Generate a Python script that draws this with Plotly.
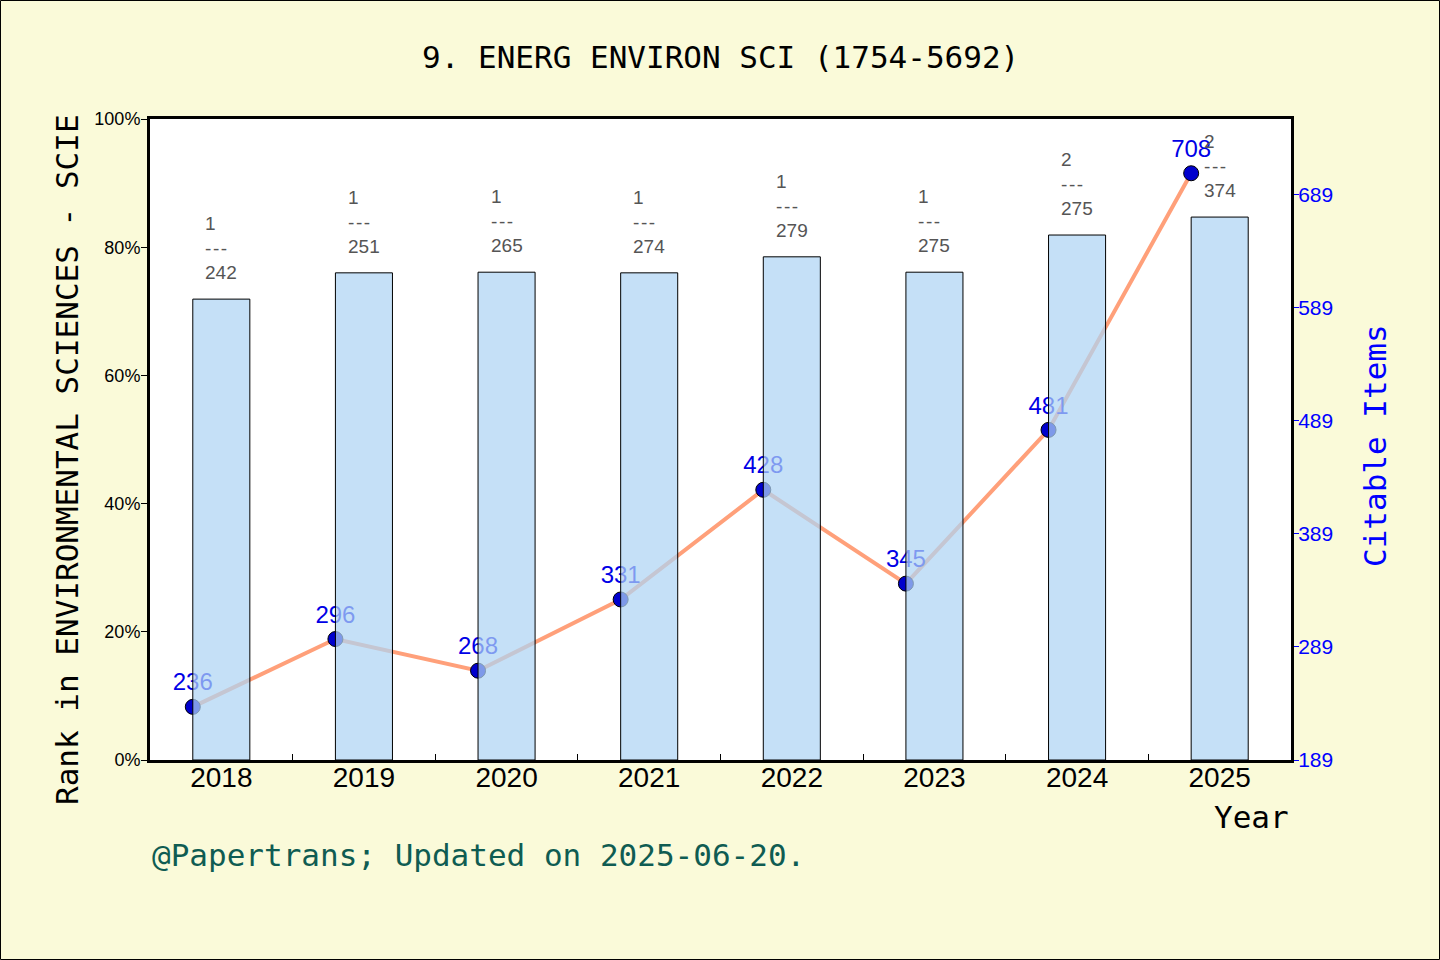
import plotly.graph_objects as go

# data
years = ["2018", "2019", "2020", "2021", "2022", "2023", "2024", "2025"]
rank_pct = [0.719, 0.760, 0.761, 0.760, 0.785, 0.761, 0.819, 0.847]
rank_pos = [1, 1, 1, 1, 1, 1, 2, 2]
rank_total = [242, 251, 265, 274, 279, 275, 275, 374]
citable_items = [236, 296, 268, 331, 428, 345, 481, 708]

W, H = 1440, 960
L, R, T, B = 150, 149, 119, 200
PW, PH = W - L - R, H - T - B


def px_x(p):
    return (p - L) / PW


def px_y(p):
    return (H - B - p) / PH


mono = "DejaVu Sans Mono"
sans = "Liberation Sans, Arial, sans-serif"

idx = list(range(len(years)))
line_x = [i - 0.2 for i in idx]

fig = go.Figure()

# line goes on the primary axis (drawn underneath), bars on the overlay axis
fig.add_trace(go.Scatter(
    x=line_x, y=citable_items,
    mode="lines+markers+text",
    text=[str(v) for v in citable_items],
    textposition="top center",
    textfont=dict(family=sans, size=24, color="rgb(0,0,230)"),
    line=dict(color="rgb(255,160,122)", width=4),
    marker=dict(size=15, color="rgb(0,0,205)", line=dict(color="black", width=1)),
    yaxis="y", showlegend=False, cliponaxis=False,
))

fig.add_trace(go.Bar(
    x=idx, y=rank_pct, width=0.4,
    marker=dict(color="rgba(174,212,244,0.72)", line=dict(color="black", width=1)),
    yaxis="y2", showlegend=False,
))

dash = "-\u200a-\u200a-"
for i, (p, r, t) in enumerate(zip(rank_pct, rank_pos, rank_total)):
    fig.add_annotation(
        x=i, y=p, xref="x", yref="y2",
        text=f"{r}<br>{dash}<br>{t}", align="left",
        showarrow=False, xanchor="center", yanchor="bottom", yshift=14,
        font=dict(family=sans, size=19, color="#555555"),
    )

fig.update_layout(
    width=W, height=H,
    margin=dict(l=L, r=R, t=T, b=B),
    paper_bgcolor="rgb(250,250,217)",
    plot_bgcolor="white",
    bargap=0.6,
    xaxis=dict(
        range=[-0.5, len(years) - 0.5],
        tickvals=idx, ticktext=years, ticks="",
        tickfont=dict(family=sans, size=28, color="black"),
        ticklabelstandoff=-10,
        showline=True, linecolor="black", linewidth=3, mirror=True,
        showgrid=False, zeroline=False,
        minor=dict(tickvals=[i + 0.5 for i in idx[:-1]], ticks="inside",
                   ticklen=6, tickcolor="black", tickwidth=1),
    ),
    yaxis=dict(
        side="right", range=[189, 756],
        tickvals=[189, 289, 389, 489, 589, 689],
        ticks="outside", ticklen=5, tickcolor="blue",
        tickfont=dict(family=sans, size=21, color="blue"),
        ticklabelstandoff=-5,
        showline=True, linecolor="black", linewidth=3,
        showgrid=False, zeroline=False,
    ),
    yaxis2=dict(
        side="left", overlaying="y", range=[0, 1],
        tickvals=[0, 0.2, 0.4, 0.6, 0.8, 1.0], tickformat=".0%",
        ticks="outside", ticklen=6, tickcolor="black",
        tickfont=dict(family=sans, size=18, color="black"),
        ticklabelstandoff=-3,
        showline=True, linecolor="black", linewidth=3,
        showgrid=False, zeroline=False,
    ),
)

# titles as annotations so they sit where the reference has them
titles = [
    ("9. ENERG ENVIRON SCI (1754-5692)", 720, 57, "center", 0, "black"),
    ("Rank in ENVIRONMENTAL SCIENCES - SCIE", 67, 460, "center", -90, "black"),
    ("Citable Items", 1375, 446, "center", -90, "blue"),
    ("Year", 1291, 817, "right", 0, "black"),
    ("@Papertrans; Updated on 2025-06-20.", 150, 855, "left", 0, "#0f5c52"),
]
for txt, x, y, xa, ang, col in titles:
    fig.add_annotation(x=px_x(x), y=px_y(y), xref="paper", yref="paper",
                       text=txt, textangle=ang, showarrow=False,
                       xanchor=xa, yanchor="middle",
                       font=dict(family=mono, size=31, color=col))

# thin frame around the whole figure
fig.add_shape(type="rect", xref="paper", yref="paper",
              x0=px_x(0.5), x1=px_x(W - 0.5), y0=px_y(H - 0.5), y1=px_y(0.5),
              line=dict(color="black", width=1), layer="below")

fig.write_html("out.html", config={"displayModeBar": False},
               post_script="document.body.style.margin='0';")
